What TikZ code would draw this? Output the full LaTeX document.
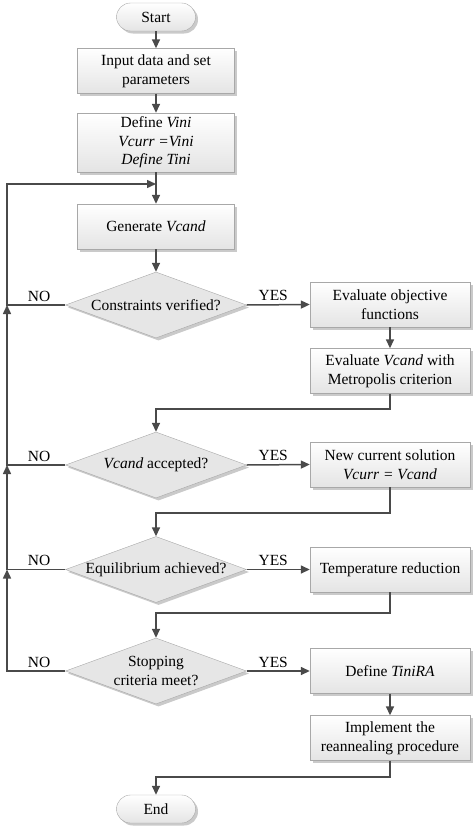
\documentclass[tikz,border=0pt]{standalone}
\usepackage{fontspec}
\setmainfont{Liberation Serif}
\usepackage{tikz}
\usetikzlibrary{calc}
\usetikzlibrary{arrows.meta}
\usetikzlibrary{shapes}
\usetikzlibrary{shapes.geometric}
\usetikzlibrary{shadows}
\definecolor{linegray}{HTML}{4A4A4A}
\definecolor{edgegray}{HTML}{A8A8A8}
\definecolor{boxlow}{HTML}{E4E4E4}
\definecolor{diafill}{HTML}{E6E6E6}
\begin{document}
\begin{tikzpicture}[x=1pt, y=-1pt,
  font=\fontsize{15.5}{18.6}\selectfont,
  shade/.style={drop shadow={shadow xshift=2.5pt, shadow yshift=-2.5pt, fill=gray!70, opacity=0.6}},
  procbox/.style={rectangle, draw=edgegray, top color=white, bottom color=boxlow, shade, align=center, minimum width=157pt, minimum height=45pt, inner sep=2pt},
  rbox/.style={procbox, minimum width=160pt},
  termbox/.style={rectangle, rounded corners=14pt, draw=edgegray, top color=white, bottom color=boxlow, shade, minimum width=79pt, minimum height=28pt, inner sep=0pt},
  decision/.style={diamond, draw=edgegray, fill=diafill, shade, aspect=2.74, minimum width=181pt, minimum height=66pt, inner sep=0pt, align=center},
  arr/.style={-{Triangle[length=9pt, width=8pt]}, draw=linegray, line width=1.5pt},
  lbl/.style={above=3pt, inner sep=0pt}]
\useasboundingbox (0,0) rectangle (474,827);
% main column
\node [termbox] (start) at (156,17) {Start};
\node [procbox] (input) at (156,71) {Input data and set\\parameters};
\node [procbox, minimum height=59pt] (define) at (156,142.5) {Define \textit{Vini}\\\textit{Vcurr =Vini}\\\textit{Define Tini}};
\node [procbox] (gen) at (156,226.5) {Generate \textit{Vcand}};
\node [decision] (d1) at (156,305) {Constraints verified?};
\node [decision] (d2) at (156,465) {\textit{Vcand} accepted?};
\node [decision] (d3) at (156,569.5) {Equilibrium achieved?};
\node [decision] (d4) at (156,671) {Stopping\\criteria meet?};
\node [termbox] (end) at (156,809) {End};
% right column
\node [rbox] (evalobj) at (390,304.5) {Evaluate objective\\functions};
\node [rbox] (evalv) at (390,371) {Evaluate \textit{Vcand} with\\Metropolis criterion};
\node [rbox] (newsol) at (390,464.5) {New current solution\\\textit{Vcurr = Vcand}};
\node [rbox] (temp) at (390,569.5) {Temperature reduction};
\node [rbox] (tinira) at (390,671) {Define \textit{TiniRA}};
\node [rbox] (impl) at (390,738) {Implement the\\reannealing procedure};
% helper points
\coordinate (left) at (7,0);
\coordinate (loop) at (156,184);
\coordinate (j1) at (390,409);
\coordinate (j2) at (390,513);
\coordinate (j3) at (390,613);
\coordinate (j4) at (390,777);
% main flow
\draw [arr] (start) to (input);
\draw [arr] (input) to (define);
\draw [arr] (define) to (gen);
\draw [arr] (gen) to (d1);
\draw [arr] (d1.east) -- node[lbl, pos=0.42] {YES} (evalobj.west);
\draw [arr] (evalobj) to (evalv);
\draw [arr] (evalv.south) -- (j1) -| (d2.north);
\draw [arr] (d2.east) -- node[lbl, pos=0.42] {YES} (newsol.west);
\draw [arr] (newsol.south) -- (j2) -| (d3.north);
\draw [arr] (d3.east) -- node[lbl, pos=0.42] {YES} (temp.west);
\draw [arr] (temp.south) -- (j3) -| (d4.north);
\draw [arr] (d4.east) -- node[lbl, pos=0.42] {YES} (tinira.west);
\draw [arr] (tinira) to (impl);
\draw [arr] (impl.south) -- (j4) -| (end.north);
% NO branches back to the loop
\draw [arr] (d4.west) -- node[lbl, pos=0.45] {NO} (d4.west -| left) -- (d3.west -| left);
\draw [arr] (d3.west) -- node[lbl, pos=0.45] {NO} (d3.west -| left) -- (d2.west -| left);
\draw [arr] (d2.west) -- node[lbl, pos=0.45] {NO} (d2.west -| left) -- (d1.west -| left);
\draw [arr] (d1.west) -- node[lbl, pos=0.45] {NO} (d1.west -| left) |- (loop);
\end{tikzpicture}
\end{document}
